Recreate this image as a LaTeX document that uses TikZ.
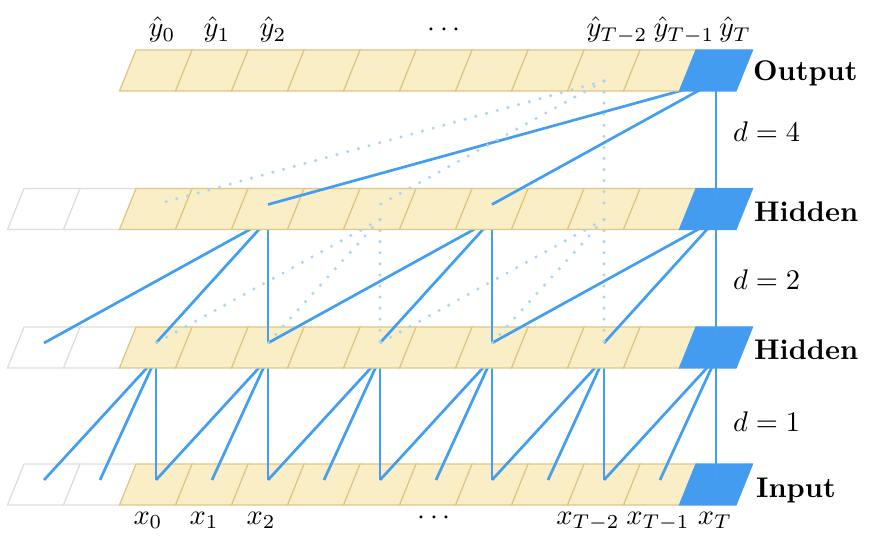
\documentclass[tikz,border=0pt]{standalone}
\usepackage{amssymb}
\usepackage{xcolor}
\usepackage{tikz}
\usetikzlibrary{shapes, positioning, calc}

\definecolor{cellyellow}{RGB}{250,238,198}
\definecolor{celledge}{RGB}{222,198,132}
\definecolor{padedge}{RGB}{222,222,222}
\definecolor{lastblue}{RGB}{68,156,240}
\definecolor{linkblue}{RGB}{68,158,240}
\definecolor{fieldblue}{RGB}{172,213,245}

% one row of cells: name, top edge, first cell
\newcommand{\cellrow}[3]{%
	\foreach \k in {#3,...,12} {
		\ifnum\k<2 \def\kind{tpad}\else\ifnum\k=12 \def\kind{tlast}\else\def\kind{tcell}\fi\fi
		\node[\kind] (#1\k) at ({44+56*\k},{#2+20.5}) {};
	}
}

\begin{document}
\begin{tikzpicture}[x=0.352pt, y=-0.352pt, thick,
					tcell/.style={trapezium, trapezium left angle=67.5, trapezium right angle=112.5, trapezium stretches=true, minimum height=14.43pt, minimum width=25.7pt, inner sep=1pt, line width=0.45pt, draw=celledge, fill=cellyellow},
					tpad/.style={tcell, draw=padedge, fill=white},
					tlast/.style={tcell, draw=lastblue, fill=lastblue},
					link/.style={draw=linkblue, line width=0.95pt},
					field/.style={draw=fieldblue, line width=1.2pt, line cap=round, dash pattern=on 0pt off 3.9pt},
					lbl/.style={anchor=base, inner sep=0pt},
					layername/.style={anchor=base west, inner sep=0pt, font=\bfseries}
				]
	\useasboundingbox (0,0) rectangle (875,556);
	
	% Anchor points
	\foreach \r/\t in {in/464, hidA/327, hidB/188.5, out/50} {
		\foreach \k in {0,...,12} {
			\coordinate (\r\k-dn) at ({44+56*\k},{\t+16});
			\coordinate (\r\k-up) at ({44+56*\k},{\t+31});
		}
	}
	
	% Input and d=1
	\cellrow{in}{464}{0}
	\foreach \j in {2,4,...,12} \foreach \d in {0,1,2} {
		\pgfmathtruncatemacro{\i}{\j-\d}
		\draw[link] (in\i-dn) -- (hidA\j-up);
	}
	
	% Hidden and d=2
	\cellrow{hidA}{327}{0}
	\foreach \j in {4,8,12} \foreach \d in {0,2,4} {
		\pgfmathtruncatemacro{\i}{\j-\d}
		\draw[link] (hidA\i-dn) -- (hidB\j-up);
	}
	
	% Hidden and d=4
	\cellrow{hidB}{188.5}{0}
	\foreach \d in {0,4,8} {
		\pgfmathtruncatemacro{\i}{12-\d}
		\draw[link] (hidB\i-dn) -- (out12-up);
	}
	
	% Output
	\cellrow{out}{50}{2}
	
	% Receptive field of y_{T-2}
	\foreach \d in {0,4,8} {
		\pgfmathtruncatemacro{\i}{10-\d}
		\draw[field] (out10-up) -- (hidB\i-dn);
	}
	\foreach \j in {6,10} \foreach \d in {0,2,4} {
		\pgfmathtruncatemacro{\i}{\j-\d}
		\draw[field] (hidB\j-up) -- (hidA\i-dn);
	}
	
	% Labels
	\node[lbl] (yh0) at (162,37) {$\hat{y}_0$};
	\node[lbl] (yh1) at (217,37) {$\hat{y}_1$};
	\node[lbl] (yh2) at (273,37) {$\hat{y}_2$};
	\node[lbl] (yhdots) at (444,37) {$\cdots$};
	\node[lbl] (yhT2) at (617,37) {$\hat{y}_{T-2}$};
	\node[lbl] (yhT1) at (684,37) {$\hat{y}_{T-1}$};
	\node[lbl] (yhT) at (735,37) {$\hat{y}_T$};
	
	\node[lbl] (x0) at (148,524) {$x_0$};
	\node[lbl] (x1) at (204,524) {$x_1$};
	\node[lbl] (x2) at (261,524) {$x_2$};
	\node[lbl] (xdots) at (434,524) {$\cdots$};
	\node[lbl] (xT2) at (588,524) {$x_{T-2}$};
	\node[lbl] (xT1) at (658,524) {$x_{T-1}$};
	\node[lbl] (xT) at (715,524) {$x_T$};
	
	\node[layername] (outname) at (752,81) {Output};
	\node[layername] (hidBname) at (753,222) {Hidden};
	\node[layername] (hidAname) at (753,360) {Hidden};
	\node[layername] (inname) at (755,497) {Input};
	
	\node[lbl, anchor=base west] (d4) at (732,142) {$d=4$};
	\node[lbl, anchor=base west] (d2) at (732,290) {$d=2$};
	\node[lbl, anchor=base west] (d1) at (732,432) {$d=1$};
\end{tikzpicture}
\end{document}
